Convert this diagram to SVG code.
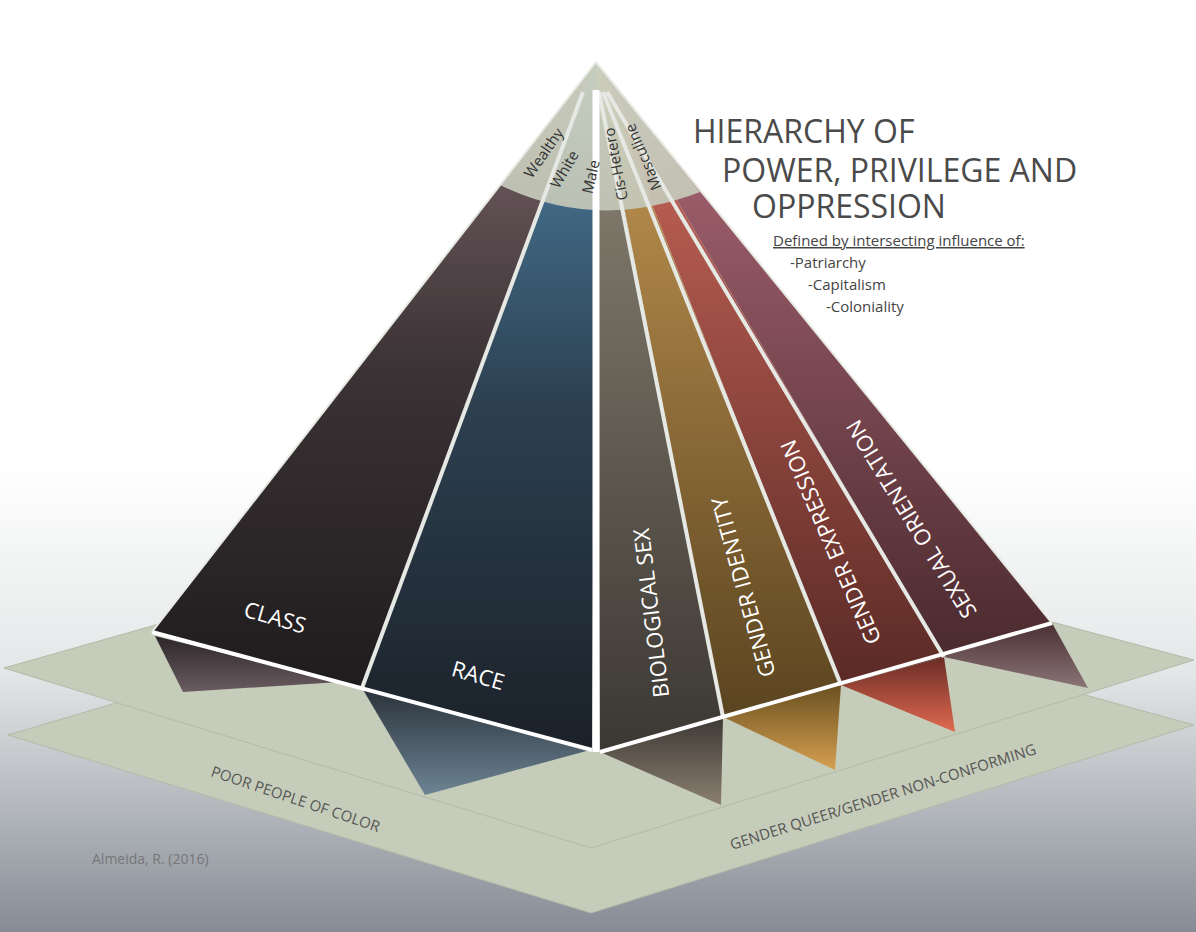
<svg xmlns="http://www.w3.org/2000/svg" width="1196" height="932" viewBox="0 0 1196 932">
<defs>
<linearGradient id="bg" x1="0" y1="0" x2="0" y2="1"><stop offset="0.5" stop-color="#ffffff"/><stop offset="0.72" stop-color="#e4e7e8"/><stop offset="1" stop-color="#868c95"/></linearGradient>
<linearGradient id="gClass" x1="0" y1="0" x2="0" y2="1"><stop offset="0" stop-color="#7d666c"/><stop offset="0.5" stop-color="#3a3234"/><stop offset="1" stop-color="#1f1c1e"/></linearGradient>
<linearGradient id="gRace" x1="0" y1="0" x2="0" y2="1"><stop offset="0" stop-color="#4f84a8"/><stop offset="0.5" stop-color="#2c4050"/><stop offset="1" stop-color="#1b2128"/></linearGradient>
<linearGradient id="gBio" x1="0" y1="0" x2="0" y2="1"><stop offset="0" stop-color="#8f8878"/><stop offset="1" stop-color="#3b3732"/></linearGradient>
<linearGradient id="gGi" x1="0" y1="0" x2="0" y2="1"><stop offset="0" stop-color="#c89a55"/><stop offset="1" stop-color="#5a4420"/></linearGradient>
<linearGradient id="gGe" x1="0" y1="0" x2="0" y2="1"><stop offset="0" stop-color="#d06a5c"/><stop offset="1" stop-color="#5a2a26"/></linearGradient>
<linearGradient id="gSo" x1="0" y1="0" x2="0" y2="1"><stop offset="0" stop-color="#b06a78"/><stop offset="1" stop-color="#4a2a2e"/></linearGradient>
<linearGradient id="gCap" x1="0" y1="0" x2="0" y2="1"><stop offset="0" stop-color="#cdd3c2"/><stop offset="1" stop-color="#c4c7b8"/></linearGradient>
<linearGradient id="hClass" x1="0" y1="0" x2="0" y2="1"><stop offset="0" stop-color="#2c2628"/><stop offset="1" stop-color="#6a5c60"/></linearGradient>
<linearGradient id="hRace" x1="0" y1="0" x2="0" y2="1"><stop offset="0" stop-color="#2a323a"/><stop offset="1" stop-color="#6d8494"/></linearGradient>
<linearGradient id="hBio" x1="0" y1="0" x2="0" y2="1"><stop offset="0" stop-color="#3d3934"/><stop offset="1" stop-color="#8a7e70"/></linearGradient>
<linearGradient id="hGi" x1="0" y1="0" x2="0" y2="1"><stop offset="0" stop-color="#6a5020"/><stop offset="1" stop-color="#d6a050"/></linearGradient>
<linearGradient id="hGe" x1="0" y1="0" x2="0" y2="1"><stop offset="0" stop-color="#6a2c26"/><stop offset="1" stop-color="#e06a50"/></linearGradient>
<linearGradient id="hSo" x1="0" y1="0" x2="0" y2="1"><stop offset="0" stop-color="#4a3034"/><stop offset="1" stop-color="#8a7476"/></linearGradient>
</defs>
<style>
.plane{fill:#c6ccba;stroke:#b4baa8;stroke-width:1}
.div{stroke:#e6e8e4;stroke-width:4;fill:none}
.edge{stroke:#ffffff;stroke-width:4;fill:none}
.lbl{font-family:"Open Sans",sans-serif;fill:#ffffff;font-size:22px}
.cap{font-family:"Open Sans",sans-serif;fill:#333333;font-size:15px}
.title{font-family:"Open Sans",sans-serif;fill:#4a4a4a;font-size:32px}
.sub{font-family:"Open Sans",sans-serif;fill:#444;font-size:15px}
.pl{font-family:"Open Sans",sans-serif;fill:#555;font-size:15px}
</style>
<rect width="1196" height="932" fill="url(#bg)"/>
<g id="planes">
<polygon class="plane" points="8,735 596,560 1194,725 591,913"/>
<polygon class="plane" points="4,668 596,500 1194,660 591,848"/>
</g>
<g id="hanging">
<polygon points="155,636 362,688 340,682 183,692" fill="url(#hClass)"/>
<polygon points="362,688 590,750 425,795" fill="url(#hRace)"/>
<polygon points="600,752 723,717 721,805" fill="url(#hBio)"/>
<polygon points="723,717 841,685 835,770" fill="url(#hGi)"/>
<polygon points="841,685 944,657 955,732" fill="url(#hGe)"/>
<polygon points="944,657 1052,623 1088,688" fill="url(#hSo)"/>
</g>
<g id="pyramid">
<polygon id="class" points="596,62 152,632 362,688" fill="url(#gClass)"/>
<polygon id="race" points="596,62 362,688 592,750" fill="url(#gRace)"/>
<polygon id="bio" points="596,62 600,752 723,717" fill="url(#gBio)"/>
<polygon id="gi" points="596,62 723,717 841,685" fill="url(#gGi)"/>
<polygon id="ge" points="596,62 841,685 944,657" fill="url(#gGe)"/>
<polygon id="so" points="596,62 944,657 1052,623" fill="url(#gSo)"/>
<path id="capstone" d="M596,62 L500,185 Q596,232 700,192 Z" fill="url(#gCap)" opacity="0.93"/>
</g>
<g id="lines">
<line class="div" x1="583" y1="92" x2="362" y2="688"/>
<line class="div" x1="599" y1="92" x2="723" y2="717"/>
<line class="div" x1="603" y1="92" x2="841" y2="685"/>
<line class="div" x1="607" y1="92" x2="944" y2="657"/>
<line x1="596" y1="90" x2="596" y2="752" stroke="#ffffff" stroke-width="7"/>
<line class="edge" x1="152" y1="632" x2="592" y2="750"/>
<line class="edge" x1="600" y1="752" x2="1052" y2="623"/>
<line x1="596" y1="62" x2="152" y2="632" stroke="#e8ebe4" stroke-width="2"/>
<line x1="596" y1="62" x2="1052" y2="623" stroke="#e8ebe4" stroke-width="2"/>
</g>
<g id="labels">
<text class="cap" text-anchor="middle" transform="translate(548,156) rotate(-55)">Wealthy</text>
<text class="cap" text-anchor="middle" transform="translate(569,172) rotate(-60)">White</text>
<text class="cap" text-anchor="middle" transform="translate(596,178) rotate(-77)">Male</text>
<text class="cap" text-anchor="middle" transform="translate(621,163) rotate(-101)">Cis-Hetero</text>
<text class="cap" text-anchor="middle" transform="translate(648,155) rotate(-113)">Masculine</text>
<text class="lbl" text-anchor="middle" transform="translate(273,625) rotate(16)">CLASS</text>
<text class="lbl" text-anchor="middle" transform="translate(476,683) rotate(16)">RACE</text>
<text class="lbl" text-anchor="middle" transform="translate(659,612) rotate(-97)">BIOLOGICAL SEX</text>
<text class="lbl" text-anchor="middle" transform="translate(751,585) rotate(-105.5)">GENDER IDENTITY</text>
<text class="lbl" text-anchor="middle" transform="translate(838,539) rotate(-113.4)">GENDER EXPRESSION</text>
<text class="lbl" text-anchor="middle" transform="translate(918,515) rotate(-121.5)">SEXUAL ORIENTATION</text>
</g>
<g id="title">
<text class="title" x="693" y="143">HIERARCHY OF</text>
<text class="title" x="722" y="182">POWER, PRIVILEGE AND</text>
<text class="title" x="752" y="218">OPPRESSION</text>
<text class="sub" x="773" y="246" text-decoration="underline">Defined by intersecting influence of:</text>
<text class="sub" x="790" y="268">-Patriarchy</text>
<text class="sub" x="808" y="290">-Capitalism</text>
<text class="sub" x="826" y="312">-Coloniality</text>
</g>
<g id="planeLabels">
<text class="pl" transform="translate(210,776) rotate(18.5)">POOR PEOPLE OF COLOR</text>
<text class="pl" transform="translate(732,850) rotate(-17.5)">GENDER QUEER/GENDER NON-CONFORMING</text>
<text x="92" y="864" font-family="Open Sans, sans-serif" font-size="14" fill="#777">Almeida, R. (2016)</text>
</g>
</svg>
